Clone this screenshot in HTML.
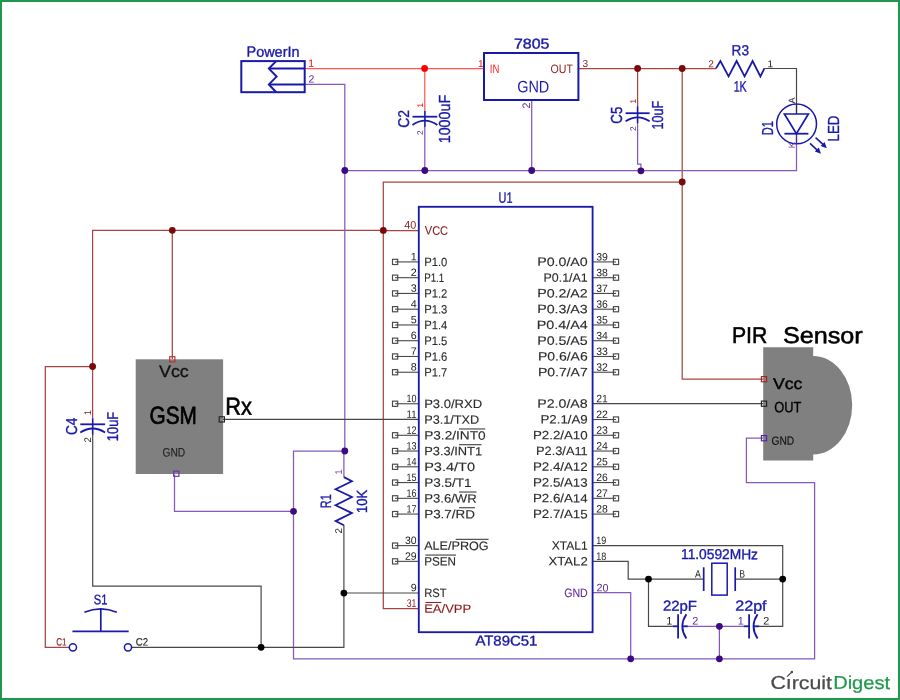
<!DOCTYPE html>
<html><head><meta charset="utf-8"><title>Circuit</title>
<style>
html,body{margin:0;padding:0;background:#fff;}
body{width:900px;height:700px;overflow:hidden;font-family:"Liberation Sans",sans-serif;}
svg{display:block;will-change:transform;text-rendering:geometricPrecision;font-family:"Liberation Sans",sans-serif;}
</style></head><body>
<svg width="900" height="700" viewBox="0 0 900 700">
<rect x="0" y="0" width="900" height="700" fill="#fff"/>
<rect x="1" y="1" width="898" height="698" fill="none" stroke="#20974b" stroke-width="2"/>
<polyline points="304.7,68.5 483,68.5" fill="none" stroke="#ff5555" stroke-width="1.25" />
<polyline points="424.8,68.5 424.8,111" fill="none" stroke="#ff5555" stroke-width="1.25" />
<circle cx="424.6" cy="68.4" r="3.4" fill="#f00"/>
<polyline points="579,68.5 716,68.5" fill="none" stroke="#a84444" stroke-width="1.25" />
<polyline points="637.6,68.5 637.6,107" fill="none" stroke="#a84444" stroke-width="1.25" />
<polyline points="682.2,68.5 682.2,379.2 763.6,379.2" fill="none" stroke="#a84444" stroke-width="1.25" />
<polyline points="682.2,182 383.3,182 383.3,608.5 418,608.5" fill="none" stroke="#a84444" stroke-width="1.25" />
<polyline points="383.3,230.5 418,230.5" fill="none" stroke="#a84444" stroke-width="1.25" />
<polyline points="383.3,230.3 92.6,230.3 92.6,418" fill="none" stroke="#a84444" stroke-width="1.25" />
<polyline points="172.3,230.3 172.3,359.3" fill="none" stroke="#a84444" stroke-width="1.25" />
<polyline points="92.6,366.5 45.3,366.5 45.3,647.3 69.3,647.3" fill="none" stroke="#a84444" stroke-width="1.25" />
<circle cx="637.6" cy="68.5" r="3.4" fill="#7a0a0a"/>
<circle cx="682.2" cy="68.5" r="3.4" fill="#7a0a0a"/>
<circle cx="682.2" cy="182" r="3.4" fill="#7a0a0a"/>
<circle cx="383.3" cy="230.4" r="3.4" fill="#7a0a0a"/>
<circle cx="172.3" cy="230.3" r="3.4" fill="#7a0a0a"/>
<circle cx="92.6" cy="366.5" r="3.4" fill="#7a0a0a"/>
<polyline points="764.4,68.5 796.5,68.5 796.5,104" fill="none" stroke="#484848" stroke-width="1.2" />
<polyline points="304.7,84.3 344.8,84.3 344.8,451" fill="none" stroke="#8558bc" stroke-width="1.25" />
<polyline points="343.9,451 343.9,477.3" fill="none" stroke="#8558bc" stroke-width="1.25" />
<polyline points="344.8,170.5 796.5,170.5 796.5,144" fill="none" stroke="#8558bc" stroke-width="1.25" />
<polyline points="424.8,127 424.8,170.5" fill="none" stroke="#8558bc" stroke-width="1.25" />
<polyline points="531.7,100 531.7,170.5" fill="none" stroke="#8558bc" stroke-width="1.25" />
<polyline points="637.6,123 637.6,164 640.9,164 640.9,170.5" fill="none" stroke="#8558bc" stroke-width="1.25" />
<circle cx="344.8" cy="170.5" r="3.4" fill="#3c0a82"/>
<circle cx="424.8" cy="170.5" r="3.4" fill="#3c0a82"/>
<circle cx="531.7" cy="170.5" r="3.4" fill="#3c0a82"/>
<circle cx="640.9" cy="170.8" r="3.4" fill="#3c0a82"/>
<polyline points="344.8,451 293.5,451 293.5,658.8 814.6,658.8 814.6,482.6 746.4,482.6 746.4,438.2 764,438.2" fill="none" stroke="#8558bc" stroke-width="1.25" />
<polyline points="174.5,474.5 174.5,511.3 293.5,511.3" fill="none" stroke="#8558bc" stroke-width="1.25" />
<polyline points="593,592.7 630.7,592.7 630.7,658.8" fill="none" stroke="#8558bc" stroke-width="1.25" />
<polyline points="688,626.3 743.5,626.3" fill="none" stroke="#8558bc" stroke-width="1.25" />
<polyline points="719.4,626.3 719.4,658.8" fill="none" stroke="#8558bc" stroke-width="1.25" />
<circle cx="344.8" cy="451" r="3.4" fill="#3c0a82"/>
<circle cx="293.5" cy="511.3" r="3.4" fill="#3c0a82"/>
<circle cx="630.7" cy="658.8" r="3.4" fill="#3c0a82"/>
<circle cx="719.4" cy="658.8" r="3.4" fill="#3c0a82"/>
<circle cx="719.4" cy="626.3" r="3.4" fill="#3c0a82"/>
<polyline points="221.8,419.4 418,419.4" fill="none" stroke="#484848" stroke-width="1.2" />
<polyline points="593,403.7 763.6,403.7" fill="none" stroke="#484848" stroke-width="1.2" />
<polyline points="92.7,434 92.7,586.2 261.1,586.2 261.1,647.3" fill="none" stroke="#484848" stroke-width="1.2" />
<polyline points="131.8,647.3 343.9,647.3 343.9,525" fill="none" stroke="#484848" stroke-width="1.2" />
<polyline points="343.9,593 418,593" fill="none" stroke="#484848" stroke-width="1.2" />
<polyline points="593,545.6 782.7,545.6 782.7,626.3 759,626.3" fill="none" stroke="#484848" stroke-width="1.2" />
<polyline points="593,561.3 628.2,561.3 628.2,579.2 703,579.2" fill="none" stroke="#484848" stroke-width="1.2" />
<polyline points="735.5,579.2 782.7,579.2" fill="none" stroke="#484848" stroke-width="1.2" />
<polyline points="648.5,579 648.5,626.3 672.5,626.3" fill="none" stroke="#484848" stroke-width="1.2" />
<circle cx="261.1" cy="647.3" r="3.4" fill="#000"/>
<circle cx="343.9" cy="593.1" r="3.4" fill="#000"/>
<circle cx="648.5" cy="579.1" r="3.4" fill="#000"/>
<circle cx="782.7" cy="579.1" r="3.4" fill="#000"/>
<rect x="241.3" y="61.1" width="63.4" height="31.1" fill="none" stroke="#1a1aaa" stroke-width="2"/>
<polyline points="276.2,61.1 268.9,68.6 276.6,76.6 268.9,84.4 276.2,92.2" fill="none" stroke="#1a1aaa" stroke-width="2" />
<polyline points="268.9,68.6 304.7,68.6" fill="none" stroke="#1a1aaa" stroke-width="2" />
<polyline points="268.9,84.4 304.7,84.4" fill="none" stroke="#1a1aaa" stroke-width="2" />
<text x="246.5" y="56.6" font-size="14.6" fill="#1a1aaa" textLength="53" lengthAdjust="spacingAndGlyphs" transform="rotate(0.25 246.5 56.6)" stroke="#1a1aaa" stroke-width="0.35" >PowerIn</text>
<text x="308.3" y="66.7" font-size="10.4" fill="#f00" transform="rotate(0.25 308.3 66.7)" >1</text>
<text x="308.5" y="82.6" font-size="10.4" fill="#5a2a9a" transform="rotate(0.25 308.5 82.6)" >2</text>
<rect x="484" y="53" width="94.4" height="47" fill="none" stroke="#1a1aaa" stroke-width="2"/>
<text x="514" y="48.5" font-size="14.1" fill="#1a1aaa" textLength="35.3" lengthAdjust="spacingAndGlyphs" transform="rotate(0.25 514 48.5)" stroke="#1a1aaa" stroke-width="0.4" >7805</text>
<text x="489.8" y="72.9" font-size="12.2" fill="#f22" textLength="9.5" lengthAdjust="spacingAndGlyphs" transform="rotate(0.25 489.8 72.9)" >IN</text>
<text x="550.6" y="72.9" font-size="12.2" fill="#8a1a1a" textLength="22.4" lengthAdjust="spacingAndGlyphs" transform="rotate(0.25 550.6 72.9)" >OUT</text>
<text x="517.2" y="92.3" font-size="16.6" fill="#1a1aaa" textLength="32" lengthAdjust="spacingAndGlyphs" transform="rotate(0.25 517.2 92.3)" >GND</text>
<text x="478" y="66.9" font-size="10" fill="#f00" transform="rotate(0.25 478 66.9)" >1</text>
<text x="582.6" y="66.9" font-size="10.2" fill="#8a1a1a" transform="rotate(0.25 582.6 66.9)" >3</text>
<text x="529.5" y="108.5" font-size="10.8" fill="#5a2a9a" transform="rotate(-90 529.5 108.5)" >2</text>
<polyline points="424.9,111 424.9,127" fill="none" stroke="#1a1aaa" stroke-width="1.6" />
<polyline points="412.5,116.7 437.3,116.7" fill="none" stroke="#1a1aaa" stroke-width="1.8" />
<path d="M412.5,125.1 Q424.9,116.3 437.3,125.1" fill="none" stroke="#1a1aaa" stroke-width="1.8"/>
<text x="409.5" y="127.8" font-size="15.6" fill="#1a1aaa" textLength="17.8" lengthAdjust="spacingAndGlyphs" transform="rotate(-90 409.5 127.8)" stroke="#1a1aaa" stroke-width="0.35" >C2</text>
<text x="450.3" y="143.3" font-size="16" fill="#1a1aaa" textLength="48.4" lengthAdjust="spacingAndGlyphs" transform="rotate(-90 450.3 143.3)" stroke="#1a1aaa" stroke-width="0.35" >1000uF</text>
<text x="422.6" y="107.5" font-size="8.3" fill="#f00" transform="rotate(-90 422.6 107.5)" >1</text>
<text x="422.6" y="135" font-size="8.3" fill="#5a2a9a" transform="rotate(-90 422.6 135)" >2</text>
<polyline points="637.6,106.5 637.6,123.2" fill="none" stroke="#1a1aaa" stroke-width="1.6" />
<polyline points="625.6,113.2 649.6,113.2" fill="none" stroke="#1a1aaa" stroke-width="1.8" />
<path d="M625.6,121.3 Q637.6,113.3 649.6,121.3" fill="none" stroke="#1a1aaa" stroke-width="1.8"/>
<text x="622.2" y="123.7" font-size="16" fill="#1a1aaa" textLength="17" lengthAdjust="spacingAndGlyphs" transform="rotate(-90 622.2 123.7)" stroke="#1a1aaa" stroke-width="0.35" >C5</text>
<text x="663" y="129.6" font-size="15.9" fill="#1a1aaa" textLength="28.7" lengthAdjust="spacingAndGlyphs" transform="rotate(-90 663 129.6)" stroke="#1a1aaa" stroke-width="0.35" >10uF</text>
<text x="635.6" y="103.5" font-size="8.3" fill="#8a1a1a" transform="rotate(-90 635.6 103.5)" >1</text>
<text x="635.6" y="131" font-size="8.3" fill="#5a2a9a" transform="rotate(-90 635.6 131)" >2</text>
<polyline points="92.7,418.2 92.7,434.5" fill="none" stroke="#1a1aaa" stroke-width="1.6" />
<polyline points="80.3,424.3 105.1,424.3" fill="none" stroke="#1a1aaa" stroke-width="1.8" />
<path d="M80.3,432.5 Q92.7,424.5 105.1,432.5" fill="none" stroke="#1a1aaa" stroke-width="1.8"/>
<text x="77.2" y="435" font-size="15.8" fill="#1a1aaa" textLength="17.5" lengthAdjust="spacingAndGlyphs" transform="rotate(-90 77.2 435)" stroke="#1a1aaa" stroke-width="0.35" >C4</text>
<text x="118.2" y="441.2" font-size="15.6" fill="#1a1aaa" textLength="29.4" lengthAdjust="spacingAndGlyphs" transform="rotate(-90 118.2 441.2)" stroke="#1a1aaa" stroke-width="0.35" >10uF</text>
<text x="90.8" y="415.3" font-size="9.6" fill="#8a1a1a" transform="rotate(-90 90.8 415.3)" >1</text>
<text x="90.8" y="442.5" font-size="9.6" fill="#222" transform="rotate(-90 90.8 442.5)" >2</text>
<polyline points="716,68.4 720.4,61 728.6,76.4 736.6,61 744.6,76.4 752.6,61 760.4,76.4 764.4,68.4" fill="none" stroke="#1a1aaa" stroke-width="1.8" stroke-linejoin="miter"/>
<text x="731.6" y="55.2" font-size="14.6" fill="#1a1aaa" textLength="17.4" lengthAdjust="spacingAndGlyphs" transform="rotate(0.25 731.6 55.2)" stroke="#1a1aaa" stroke-width="0.35" >R3</text>
<text x="733.7" y="91.4" font-size="15" fill="#1a1aaa" textLength="13" lengthAdjust="spacingAndGlyphs" transform="rotate(0.25 733.7 91.4)" stroke="#1a1aaa" stroke-width="0.35" >1K</text>
<text x="708.3" y="67.3" font-size="10" fill="#8a1a1a" transform="rotate(0.25 708.3 67.3)" >2</text>
<text x="767.4" y="67.3" font-size="10" fill="#222" transform="rotate(0.25 767.4 67.3)" >1</text>
<circle cx="796.6" cy="123.9" r="19.9" fill="none" stroke="#1a1aaa" stroke-width="1.5"/>
<polyline points="796.5,104 796.5,114" fill="none" stroke="#2a2a55" stroke-width="1.4" />
<polyline points="796.5,133.7 796.5,144" fill="none" stroke="#4a2a8a" stroke-width="1.4" />
<path d="M784.4,114 L808.4,114 L796.4,133.6 Z" fill="#fff" stroke="#1a1aaa" stroke-width="1.7"/>
<polyline points="784.4,133.7 808.4,133.7" fill="none" stroke="#1a1aaa" stroke-width="1.8" />
<polyline points="815.6,137.6 824.3,145.7" fill="none" stroke="#1a1aaa" stroke-width="1.6" />
<path d="M826.8,148.2 L820.6,146 L824.6,142 Z" fill="#1a1aaa"/>
<polyline points="810,143.4 818.5,151.3" fill="none" stroke="#1a1aaa" stroke-width="1.6" />
<path d="M821,153.8 L814.8,151.6 L818.8,147.6 Z" fill="#1a1aaa"/>
<text x="773.5" y="135.2" font-size="15.9" fill="#1a1aaa" textLength="14.2" lengthAdjust="spacingAndGlyphs" transform="rotate(-90 773.5 135.2)" stroke="#1a1aaa" stroke-width="0.35" >D1</text>
<text x="839.1" y="141.4" font-size="16" fill="#1a1aaa" textLength="25.8" lengthAdjust="spacingAndGlyphs" transform="rotate(-90 839.1 141.4)" stroke="#1a1aaa" stroke-width="0.35" >LED</text>
<text x="794.6" y="103.6" font-size="9.2" fill="#222" transform="rotate(-90 794.6 103.6)" >A</text>
<text x="794.6" y="148.3" font-size="9.2" fill="#7a3a9a" transform="rotate(-90 794.6 148.3)" >K</text>
<rect x="135.7" y="359.3" width="87.4" height="114.7" fill="#808080"/>
<rect x="169.7" y="356.7" width="5.2" height="5.2" fill="none" stroke="#b83030" stroke-width="1.15"/>
<rect x="219.2" y="416.8" width="5.2" height="5.2" fill="none" stroke="#222" stroke-width="1.15"/>
<rect x="173.7" y="471.1" width="5.2" height="5.2" fill="none" stroke="#6a30b0" stroke-width="1.15"/>
<text x="159" y="376.9" font-size="16.8" fill="#111" textLength="29.7" lengthAdjust="spacingAndGlyphs" transform="rotate(0.25 159 376.9)" stroke="#111" stroke-width="0.3" >Vcc</text>
<text x="149.5" y="423.7" font-size="24.6" fill="#000" textLength="47.3" lengthAdjust="spacingAndGlyphs" transform="rotate(0.25 149.5 423.7)" stroke="#000" stroke-width="0.7" >GSM</text>
<text x="162.5" y="456.5" font-size="12.2" fill="#222" textLength="22.7" lengthAdjust="spacingAndGlyphs" transform="rotate(0.25 162.5 456.5)" stroke="#222" stroke-width="0.15" >GND</text>
<text x="225.3" y="414.8" font-size="24.6" fill="#000" textLength="26.6" lengthAdjust="spacingAndGlyphs" transform="rotate(0.25 225.3 414.8)" stroke="#000" stroke-width="0.6" >Rx</text>
<polyline points="343.9,477.1 351.9,481.3 335.6,489.2 351.9,497 335.6,505.2 351.9,513.1 335.6,521.1 343.9,525.3" fill="none" stroke="#1a1aaa" stroke-width="1.8" />
<text x="331" y="508.2" font-size="15" fill="#1a1aaa" textLength="14" lengthAdjust="spacingAndGlyphs" transform="rotate(-90 331 508.2)" stroke="#1a1aaa" stroke-width="0.35" >R1</text>
<text x="366.6" y="512.9" font-size="14.7" fill="#1a1aaa" textLength="23.2" lengthAdjust="spacingAndGlyphs" transform="rotate(-90 366.6 512.9)" stroke="#1a1aaa" stroke-width="0.35" >10K</text>
<text x="342" y="474.8" font-size="9.8" fill="#7a40b0" transform="rotate(-90 342 474.8)" >1</text>
<text x="342" y="533.5" font-size="9.8" fill="#222" transform="rotate(-90 342 533.5)" >2</text>
<circle cx="72.9" cy="647.3" r="3.6" fill="#fff" stroke="#1a1aaa" stroke-width="1.5"/>
<circle cx="128" cy="647.3" r="3.6" fill="#fff" stroke="#1a1aaa" stroke-width="1.5"/>
<polyline points="72.4,631.3 128.7,631.3" fill="none" stroke="#1a1aaa" stroke-width="1.7" />
<polyline points="100.8,631.3 100.8,608.8" fill="none" stroke="#1a1aaa" stroke-width="1.7" />
<path d="M84.4,612.3 Q100.8,605.3 116.8,612.3" fill="none" stroke="#1a1aaa" stroke-width="1.7"/>
<text x="93.8" y="604.3" font-size="13.8" fill="#1a1aaa" textLength="13.6" lengthAdjust="spacingAndGlyphs" transform="rotate(0.25 93.8 604.3)" stroke="#1a1aaa" stroke-width="0.35" >S1</text>
<text x="56.3" y="645.5" font-size="10.6" fill="#8a1a1a" textLength="10.3" lengthAdjust="spacingAndGlyphs" transform="rotate(0.25 56.3 645.5)" stroke="#8a1a1a" stroke-width="0.15" >C1</text>
<text x="135.8" y="645.5" font-size="10.6" fill="#222" textLength="12.3" lengthAdjust="spacingAndGlyphs" transform="rotate(0.25 135.8 645.5)" stroke="#222" stroke-width="0.15" >C2</text>
<rect x="418.8" y="206.8" width="173.8" height="425.4" fill="none" stroke="#1a1aaa" stroke-width="1.85"/>
<text x="498.6" y="202.7" font-size="15" fill="#1a1aaa" textLength="13.9" lengthAdjust="spacingAndGlyphs" transform="rotate(0.25 498.6 202.7)" stroke="#1a1aaa" stroke-width="0.4" >U1</text>
<text x="475.4" y="645.3" font-size="14.1" fill="#1a1aaa" textLength="62" lengthAdjust="spacingAndGlyphs" transform="rotate(0.25 475.4 645.3)" stroke="#1a1aaa" stroke-width="0.35" >AT89C51</text>
<text x="424.2" y="266.07" font-size="12.1" fill="#2b2b2b" textLength="23.1" lengthAdjust="spacingAndGlyphs" transform="rotate(0.25 424.2 266.07)" stroke="#2b2b2b" stroke-width="0.12" >P1.0</text>
<text x="416.6" y="260.32" font-size="10.7" fill="#222" text-anchor="end" transform="rotate(0.25 416.6 260.32)" >1</text>
<polyline points="395.1,261.92 418,261.92" fill="none" stroke="#484848" stroke-width="1.1" />
<rect x="392.5" y="259.32" width="5.2" height="5.2" fill="none" stroke="#484848" stroke-width="1.15"/>
<text x="424.2" y="281.83" font-size="12.1" fill="#2b2b2b" textLength="19.9" lengthAdjust="spacingAndGlyphs" transform="rotate(0.25 424.2 281.83)" stroke="#2b2b2b" stroke-width="0.12" >P1.1</text>
<text x="416.6" y="276.08" font-size="10.7" fill="#222" text-anchor="end" transform="rotate(0.25 416.6 276.08)" >2</text>
<polyline points="395.1,277.68 418,277.68" fill="none" stroke="#484848" stroke-width="1.1" />
<rect x="392.5" y="275.08" width="5.2" height="5.2" fill="none" stroke="#484848" stroke-width="1.15"/>
<text x="424.2" y="297.59" font-size="12.1" fill="#2b2b2b" textLength="23.1" lengthAdjust="spacingAndGlyphs" transform="rotate(0.25 424.2 297.59)" stroke="#2b2b2b" stroke-width="0.12" >P1.2</text>
<text x="416.6" y="291.84" font-size="10.7" fill="#222" text-anchor="end" transform="rotate(0.25 416.6 291.84)" >3</text>
<polyline points="395.1,293.44 418,293.44" fill="none" stroke="#484848" stroke-width="1.1" />
<rect x="392.5" y="290.84" width="5.2" height="5.2" fill="none" stroke="#484848" stroke-width="1.15"/>
<text x="424.2" y="313.35" font-size="12.1" fill="#2b2b2b" textLength="23.1" lengthAdjust="spacingAndGlyphs" transform="rotate(0.25 424.2 313.35)" stroke="#2b2b2b" stroke-width="0.12" >P1.3</text>
<text x="416.6" y="307.6" font-size="10.7" fill="#222" text-anchor="end" transform="rotate(0.25 416.6 307.6)" >4</text>
<polyline points="395.1,309.2 418,309.2" fill="none" stroke="#484848" stroke-width="1.1" />
<rect x="392.5" y="306.6" width="5.2" height="5.2" fill="none" stroke="#484848" stroke-width="1.15"/>
<text x="424.2" y="329.11" font-size="12.1" fill="#2b2b2b" textLength="23.1" lengthAdjust="spacingAndGlyphs" transform="rotate(0.25 424.2 329.11)" stroke="#2b2b2b" stroke-width="0.12" >P1.4</text>
<text x="416.6" y="323.36" font-size="10.7" fill="#222" text-anchor="end" transform="rotate(0.25 416.6 323.36)" >5</text>
<polyline points="395.1,324.96 418,324.96" fill="none" stroke="#484848" stroke-width="1.1" />
<rect x="392.5" y="322.36" width="5.2" height="5.2" fill="none" stroke="#484848" stroke-width="1.15"/>
<text x="424.2" y="344.87" font-size="12.1" fill="#2b2b2b" textLength="23.1" lengthAdjust="spacingAndGlyphs" transform="rotate(0.25 424.2 344.87)" stroke="#2b2b2b" stroke-width="0.12" >P1.5</text>
<text x="416.6" y="339.12" font-size="10.7" fill="#222" text-anchor="end" transform="rotate(0.25 416.6 339.12)" >6</text>
<polyline points="395.1,340.72 418,340.72" fill="none" stroke="#484848" stroke-width="1.1" />
<rect x="392.5" y="338.12" width="5.2" height="5.2" fill="none" stroke="#484848" stroke-width="1.15"/>
<text x="424.2" y="360.63" font-size="12.1" fill="#2b2b2b" textLength="23.1" lengthAdjust="spacingAndGlyphs" transform="rotate(0.25 424.2 360.63)" stroke="#2b2b2b" stroke-width="0.12" >P1.6</text>
<text x="416.6" y="354.88" font-size="10.7" fill="#222" text-anchor="end" transform="rotate(0.25 416.6 354.88)" >7</text>
<polyline points="395.1,356.48 418,356.48" fill="none" stroke="#484848" stroke-width="1.1" />
<rect x="392.5" y="353.88" width="5.2" height="5.2" fill="none" stroke="#484848" stroke-width="1.15"/>
<text x="424.2" y="376.39" font-size="12.1" fill="#2b2b2b" textLength="23.1" lengthAdjust="spacingAndGlyphs" transform="rotate(0.25 424.2 376.39)" stroke="#2b2b2b" stroke-width="0.12" >P1.7</text>
<text x="416.6" y="370.64" font-size="10.7" fill="#222" text-anchor="end" transform="rotate(0.25 416.6 370.64)" >8</text>
<polyline points="395.1,372.24 418,372.24" fill="none" stroke="#484848" stroke-width="1.1" />
<rect x="392.5" y="369.64" width="5.2" height="5.2" fill="none" stroke="#484848" stroke-width="1.15"/>
<text x="424.2" y="407.91" font-size="12.1" fill="#2b2b2b" textLength="57.9" lengthAdjust="spacingAndGlyphs" transform="rotate(0.25 424.2 407.91)" stroke="#2b2b2b" stroke-width="0.12" >P3.0/RXD</text>
<text x="416.6" y="402.16" font-size="10.7" fill="#222" text-anchor="end" textLength="10" lengthAdjust="spacingAndGlyphs" transform="rotate(0.25 416.6 402.16)" >10</text>
<polyline points="395.1,403.76 418,403.76" fill="none" stroke="#484848" stroke-width="1.1" />
<rect x="392.5" y="401.16" width="5.2" height="5.2" fill="none" stroke="#484848" stroke-width="1.15"/>
<text x="424.2" y="423.67" font-size="12.1" fill="#2b2b2b" textLength="55" lengthAdjust="spacingAndGlyphs" transform="rotate(0.25 424.2 423.67)" stroke="#2b2b2b" stroke-width="0.12" >P3.1/TXD</text>
<text x="416.6" y="417.92" font-size="10.7" fill="#222" text-anchor="end" textLength="10" lengthAdjust="spacingAndGlyphs" transform="rotate(0.25 416.6 417.92)" >11</text>
<text x="424.2" y="439.43" font-size="12.1" fill="#2b2b2b" textLength="61.4" lengthAdjust="spacingAndGlyphs" transform="rotate(0.25 424.2 439.43)" stroke="#2b2b2b" stroke-width="0.12" >P3.2/INT0</text>
<text x="416.6" y="433.68" font-size="10.7" fill="#222" text-anchor="end" textLength="10" lengthAdjust="spacingAndGlyphs" transform="rotate(0.25 416.6 433.68)" >12</text>
<polyline points="395.1,435.28 418,435.28" fill="none" stroke="#484848" stroke-width="1.1" />
<rect x="392.5" y="432.68" width="5.2" height="5.2" fill="none" stroke="#484848" stroke-width="1.15"/>
<text x="424.2" y="455.19" font-size="12.1" fill="#2b2b2b" textLength="57.9" lengthAdjust="spacingAndGlyphs" transform="rotate(0.25 424.2 455.19)" stroke="#2b2b2b" stroke-width="0.12" >P3.3/INT1</text>
<text x="416.6" y="449.44" font-size="10.7" fill="#222" text-anchor="end" textLength="10" lengthAdjust="spacingAndGlyphs" transform="rotate(0.25 416.6 449.44)" >13</text>
<polyline points="395.1,451.04 418,451.04" fill="none" stroke="#484848" stroke-width="1.1" />
<rect x="392.5" y="448.44" width="5.2" height="5.2" fill="none" stroke="#484848" stroke-width="1.15"/>
<text x="424.2" y="470.95" font-size="12.1" fill="#2b2b2b" textLength="50.8" lengthAdjust="spacingAndGlyphs" transform="rotate(0.25 424.2 470.95)" stroke="#2b2b2b" stroke-width="0.12" >P3.4/T0</text>
<text x="416.6" y="465.2" font-size="10.7" fill="#222" text-anchor="end" textLength="10" lengthAdjust="spacingAndGlyphs" transform="rotate(0.25 416.6 465.2)" >14</text>
<polyline points="395.1,466.8 418,466.8" fill="none" stroke="#484848" stroke-width="1.1" />
<rect x="392.5" y="464.2" width="5.2" height="5.2" fill="none" stroke="#484848" stroke-width="1.15"/>
<text x="424.2" y="486.71" font-size="12.1" fill="#2b2b2b" textLength="47.3" lengthAdjust="spacingAndGlyphs" transform="rotate(0.25 424.2 486.71)" stroke="#2b2b2b" stroke-width="0.12" >P3.5/T1</text>
<text x="416.6" y="480.96" font-size="10.7" fill="#222" text-anchor="end" textLength="10" lengthAdjust="spacingAndGlyphs" transform="rotate(0.25 416.6 480.96)" >15</text>
<polyline points="395.1,482.56 418,482.56" fill="none" stroke="#484848" stroke-width="1.1" />
<rect x="392.5" y="479.96" width="5.2" height="5.2" fill="none" stroke="#484848" stroke-width="1.15"/>
<text x="424.2" y="502.47" font-size="12.1" fill="#2b2b2b" textLength="52.5" lengthAdjust="spacingAndGlyphs" transform="rotate(0.25 424.2 502.47)" stroke="#2b2b2b" stroke-width="0.12" >P3.6/WR</text>
<text x="416.6" y="496.72" font-size="10.7" fill="#222" text-anchor="end" textLength="10" lengthAdjust="spacingAndGlyphs" transform="rotate(0.25 416.6 496.72)" >16</text>
<polyline points="395.1,498.32 418,498.32" fill="none" stroke="#484848" stroke-width="1.1" />
<rect x="392.5" y="495.72" width="5.2" height="5.2" fill="none" stroke="#484848" stroke-width="1.15"/>
<text x="424.2" y="518.23" font-size="12.1" fill="#2b2b2b" textLength="50.8" lengthAdjust="spacingAndGlyphs" transform="rotate(0.25 424.2 518.23)" stroke="#2b2b2b" stroke-width="0.12" >P3.7/RD</text>
<text x="416.6" y="512.48" font-size="10.7" fill="#222" text-anchor="end" textLength="10" lengthAdjust="spacingAndGlyphs" transform="rotate(0.25 416.6 512.48)" >17</text>
<polyline points="395.1,514.08 418,514.08" fill="none" stroke="#484848" stroke-width="1.1" />
<rect x="392.5" y="511.48" width="5.2" height="5.2" fill="none" stroke="#484848" stroke-width="1.15"/>
<text x="424.2" y="549.75" font-size="12.1" fill="#2b2b2b" textLength="64.4" lengthAdjust="spacingAndGlyphs" transform="rotate(0.25 424.2 549.75)" stroke="#2b2b2b" stroke-width="0.12" >ALE/PROG</text>
<text x="416.6" y="544" font-size="10.7" fill="#222" text-anchor="end" textLength="11.6" lengthAdjust="spacingAndGlyphs" transform="rotate(0.25 416.6 544)" >30</text>
<polyline points="395.1,545.6 418,545.6" fill="none" stroke="#484848" stroke-width="1.1" />
<rect x="392.5" y="543" width="5.2" height="5.2" fill="none" stroke="#484848" stroke-width="1.15"/>
<text x="424.2" y="565.51" font-size="12.1" fill="#2b2b2b" textLength="31.7" lengthAdjust="spacingAndGlyphs" transform="rotate(0.25 424.2 565.51)" stroke="#2b2b2b" stroke-width="0.12" >PSEN</text>
<text x="416.6" y="559.76" font-size="10.7" fill="#222" text-anchor="end" textLength="11.6" lengthAdjust="spacingAndGlyphs" transform="rotate(0.25 416.6 559.76)" >29</text>
<polyline points="395.1,561.36 418,561.36" fill="none" stroke="#484848" stroke-width="1.1" />
<rect x="392.5" y="558.76" width="5.2" height="5.2" fill="none" stroke="#484848" stroke-width="1.15"/>
<text x="424.2" y="597.03" font-size="12.1" fill="#2b2b2b" textLength="22.4" lengthAdjust="spacingAndGlyphs" transform="rotate(0.25 424.2 597.03)" stroke="#2b2b2b" stroke-width="0.12" >RST</text>
<text x="416.6" y="591.28" font-size="10.7" fill="#222" text-anchor="end" transform="rotate(0.25 416.6 591.28)" >9</text>
<polyline points="459,428.98 485.2,428.98" fill="none" stroke="#2b2b2b" stroke-width="1" />
<polyline points="459,444.74 481.5,444.74" fill="none" stroke="#2b2b2b" stroke-width="1" />
<polyline points="459,492.02 476.5,492.02" fill="none" stroke="#2b2b2b" stroke-width="1" />
<polyline points="459,507.78 475,507.78" fill="none" stroke="#2b2b2b" stroke-width="1" />
<polyline points="455.7,539.3 488.6,539.3" fill="none" stroke="#2b2b2b" stroke-width="1" />
<polyline points="425.4,555.06 456,555.06" fill="none" stroke="#2b2b2b" stroke-width="1" />
<text x="424.8" y="234.6" font-size="12.3" fill="#8a1a1a" textLength="23.3" lengthAdjust="spacingAndGlyphs" transform="rotate(0.25 424.8 234.6)" stroke="#8a1a1a" stroke-width="0.12" >VCC</text>
<text x="416.3" y="228.7" font-size="11.2" fill="#8a1a1a" text-anchor="end" textLength="12" lengthAdjust="spacingAndGlyphs" transform="rotate(0.25 416.3 228.7)" >40</text>
<text x="424.2" y="612.79" font-size="12.1" fill="#8a1a1a" textLength="47" lengthAdjust="spacingAndGlyphs" transform="rotate(0.25 424.2 612.79)" stroke="#8a1a1a" stroke-width="0.12" >EA/VPP</text>
<polyline points="425.4,602.44 441.4,602.44" fill="none" stroke="#8a1a1a" stroke-width="1" />
<text x="416.3" y="606.94" font-size="11.2" fill="#8a1a1a" text-anchor="end" textLength="9.6" lengthAdjust="spacingAndGlyphs" transform="rotate(0.25 416.3 606.94)" >31</text>
<text x="587.7" y="266.07" font-size="12.1" fill="#2b2b2b" text-anchor="end" textLength="50.5" lengthAdjust="spacingAndGlyphs" transform="rotate(0.25 587.7 266.07)" stroke="#2b2b2b" stroke-width="0.12" >P0.0/A0</text>
<text x="596.3" y="260.42" font-size="10.7" fill="#222" textLength="11.6" lengthAdjust="spacingAndGlyphs" transform="rotate(0.25 596.3 260.42)" >39</text>
<polyline points="593,261.92 616,261.92" fill="none" stroke="#484848" stroke-width="1.1" />
<rect x="613.4" y="259.32" width="5.2" height="5.2" fill="none" stroke="#484848" stroke-width="1.15"/>
<text x="587.7" y="281.83" font-size="12.1" fill="#2b2b2b" text-anchor="end" textLength="44.1" lengthAdjust="spacingAndGlyphs" transform="rotate(0.25 587.7 281.83)" stroke="#2b2b2b" stroke-width="0.12" >P0.1/A1</text>
<text x="596.3" y="276.18" font-size="10.7" fill="#222" textLength="11.6" lengthAdjust="spacingAndGlyphs" transform="rotate(0.25 596.3 276.18)" >38</text>
<polyline points="593,277.68 616,277.68" fill="none" stroke="#484848" stroke-width="1.1" />
<rect x="613.4" y="275.08" width="5.2" height="5.2" fill="none" stroke="#484848" stroke-width="1.15"/>
<text x="587.7" y="297.59" font-size="12.1" fill="#2b2b2b" text-anchor="end" textLength="50.5" lengthAdjust="spacingAndGlyphs" transform="rotate(0.25 587.7 297.59)" stroke="#2b2b2b" stroke-width="0.12" >P0.2/A2</text>
<text x="596.3" y="291.94" font-size="10.7" fill="#222" textLength="11.6" lengthAdjust="spacingAndGlyphs" transform="rotate(0.25 596.3 291.94)" >37</text>
<polyline points="593,293.44 616,293.44" fill="none" stroke="#484848" stroke-width="1.1" />
<rect x="613.4" y="290.84" width="5.2" height="5.2" fill="none" stroke="#484848" stroke-width="1.15"/>
<text x="587.7" y="313.35" font-size="12.1" fill="#2b2b2b" text-anchor="end" textLength="50.5" lengthAdjust="spacingAndGlyphs" transform="rotate(0.25 587.7 313.35)" stroke="#2b2b2b" stroke-width="0.12" >P0.3/A3</text>
<text x="596.3" y="307.7" font-size="10.7" fill="#222" textLength="11.6" lengthAdjust="spacingAndGlyphs" transform="rotate(0.25 596.3 307.7)" >36</text>
<polyline points="593,309.2 616,309.2" fill="none" stroke="#484848" stroke-width="1.1" />
<rect x="613.4" y="306.6" width="5.2" height="5.2" fill="none" stroke="#484848" stroke-width="1.15"/>
<text x="587.7" y="329.11" font-size="12.1" fill="#2b2b2b" text-anchor="end" textLength="51" lengthAdjust="spacingAndGlyphs" transform="rotate(0.25 587.7 329.11)" stroke="#2b2b2b" stroke-width="0.12" >P0.4/A4</text>
<text x="596.3" y="323.46" font-size="10.7" fill="#222" textLength="11.6" lengthAdjust="spacingAndGlyphs" transform="rotate(0.25 596.3 323.46)" >35</text>
<polyline points="593,324.96 616,324.96" fill="none" stroke="#484848" stroke-width="1.1" />
<rect x="613.4" y="322.36" width="5.2" height="5.2" fill="none" stroke="#484848" stroke-width="1.15"/>
<text x="587.7" y="344.87" font-size="12.1" fill="#2b2b2b" text-anchor="end" textLength="50.5" lengthAdjust="spacingAndGlyphs" transform="rotate(0.25 587.7 344.87)" stroke="#2b2b2b" stroke-width="0.12" >P0.5/A5</text>
<text x="596.3" y="339.22" font-size="10.7" fill="#222" textLength="11.6" lengthAdjust="spacingAndGlyphs" transform="rotate(0.25 596.3 339.22)" >34</text>
<polyline points="593,340.72 616,340.72" fill="none" stroke="#484848" stroke-width="1.1" />
<rect x="613.4" y="338.12" width="5.2" height="5.2" fill="none" stroke="#484848" stroke-width="1.15"/>
<text x="587.7" y="360.63" font-size="12.1" fill="#2b2b2b" text-anchor="end" textLength="49.7" lengthAdjust="spacingAndGlyphs" transform="rotate(0.25 587.7 360.63)" stroke="#2b2b2b" stroke-width="0.12" >P0.6/A6</text>
<text x="596.3" y="354.98" font-size="10.7" fill="#222" textLength="11.6" lengthAdjust="spacingAndGlyphs" transform="rotate(0.25 596.3 354.98)" >33</text>
<polyline points="593,356.48 616,356.48" fill="none" stroke="#484848" stroke-width="1.1" />
<rect x="613.4" y="353.88" width="5.2" height="5.2" fill="none" stroke="#484848" stroke-width="1.15"/>
<text x="587.7" y="376.39" font-size="12.1" fill="#2b2b2b" text-anchor="end" textLength="49.7" lengthAdjust="spacingAndGlyphs" transform="rotate(0.25 587.7 376.39)" stroke="#2b2b2b" stroke-width="0.12" >P0.7/A7</text>
<text x="596.3" y="370.74" font-size="10.7" fill="#222" textLength="11.6" lengthAdjust="spacingAndGlyphs" transform="rotate(0.25 596.3 370.74)" >32</text>
<polyline points="593,372.24 616,372.24" fill="none" stroke="#484848" stroke-width="1.1" />
<rect x="613.4" y="369.64" width="5.2" height="5.2" fill="none" stroke="#484848" stroke-width="1.15"/>
<text x="587.7" y="407.91" font-size="12.1" fill="#2b2b2b" text-anchor="end" textLength="50.4" lengthAdjust="spacingAndGlyphs" transform="rotate(0.25 587.7 407.91)" stroke="#2b2b2b" stroke-width="0.12" >P2.0/A8</text>
<text x="596.3" y="402.26" font-size="10.7" fill="#222" textLength="11.6" lengthAdjust="spacingAndGlyphs" transform="rotate(0.25 596.3 402.26)" >21</text>
<text x="587.7" y="423.67" font-size="12.1" fill="#2b2b2b" text-anchor="end" textLength="47.2" lengthAdjust="spacingAndGlyphs" transform="rotate(0.25 587.7 423.67)" stroke="#2b2b2b" stroke-width="0.12" >P2.1/A9</text>
<text x="596.3" y="418.02" font-size="10.7" fill="#222" textLength="11.6" lengthAdjust="spacingAndGlyphs" transform="rotate(0.25 596.3 418.02)" >22</text>
<polyline points="593,419.52 616,419.52" fill="none" stroke="#484848" stroke-width="1.1" />
<rect x="613.4" y="416.92" width="5.2" height="5.2" fill="none" stroke="#484848" stroke-width="1.15"/>
<text x="587.7" y="439.43" font-size="12.1" fill="#2b2b2b" text-anchor="end" textLength="54.8" lengthAdjust="spacingAndGlyphs" transform="rotate(0.25 587.7 439.43)" stroke="#2b2b2b" stroke-width="0.12" >P2.2/A10</text>
<text x="596.3" y="433.78" font-size="10.7" fill="#222" textLength="11.6" lengthAdjust="spacingAndGlyphs" transform="rotate(0.25 596.3 433.78)" >23</text>
<polyline points="593,435.28 616,435.28" fill="none" stroke="#484848" stroke-width="1.1" />
<rect x="613.4" y="432.68" width="5.2" height="5.2" fill="none" stroke="#484848" stroke-width="1.15"/>
<text x="587.7" y="455.19" font-size="12.1" fill="#2b2b2b" text-anchor="end" textLength="51.6" lengthAdjust="spacingAndGlyphs" transform="rotate(0.25 587.7 455.19)" stroke="#2b2b2b" stroke-width="0.12" >P2.3/A11</text>
<text x="596.3" y="449.54" font-size="10.7" fill="#222" textLength="11.6" lengthAdjust="spacingAndGlyphs" transform="rotate(0.25 596.3 449.54)" >24</text>
<polyline points="593,451.04 616,451.04" fill="none" stroke="#484848" stroke-width="1.1" />
<rect x="613.4" y="448.44" width="5.2" height="5.2" fill="none" stroke="#484848" stroke-width="1.15"/>
<text x="587.7" y="470.95" font-size="12.1" fill="#2b2b2b" text-anchor="end" textLength="54.8" lengthAdjust="spacingAndGlyphs" transform="rotate(0.25 587.7 470.95)" stroke="#2b2b2b" stroke-width="0.12" >P2.4/A12</text>
<text x="596.3" y="465.3" font-size="10.7" fill="#222" textLength="11.6" lengthAdjust="spacingAndGlyphs" transform="rotate(0.25 596.3 465.3)" >25</text>
<polyline points="593,466.8 616,466.8" fill="none" stroke="#484848" stroke-width="1.1" />
<rect x="613.4" y="464.2" width="5.2" height="5.2" fill="none" stroke="#484848" stroke-width="1.15"/>
<text x="587.7" y="486.71" font-size="12.1" fill="#2b2b2b" text-anchor="end" textLength="54.8" lengthAdjust="spacingAndGlyphs" transform="rotate(0.25 587.7 486.71)" stroke="#2b2b2b" stroke-width="0.12" >P2.5/A13</text>
<text x="596.3" y="481.06" font-size="10.7" fill="#222" textLength="11.6" lengthAdjust="spacingAndGlyphs" transform="rotate(0.25 596.3 481.06)" >26</text>
<polyline points="593,482.56 616,482.56" fill="none" stroke="#484848" stroke-width="1.1" />
<rect x="613.4" y="479.96" width="5.2" height="5.2" fill="none" stroke="#484848" stroke-width="1.15"/>
<text x="587.7" y="502.47" font-size="12.1" fill="#2b2b2b" text-anchor="end" textLength="54.8" lengthAdjust="spacingAndGlyphs" transform="rotate(0.25 587.7 502.47)" stroke="#2b2b2b" stroke-width="0.12" >P2.6/A14</text>
<text x="596.3" y="496.82" font-size="10.7" fill="#222" textLength="11.6" lengthAdjust="spacingAndGlyphs" transform="rotate(0.25 596.3 496.82)" >27</text>
<polyline points="593,498.32 616,498.32" fill="none" stroke="#484848" stroke-width="1.1" />
<rect x="613.4" y="495.72" width="5.2" height="5.2" fill="none" stroke="#484848" stroke-width="1.15"/>
<text x="587.7" y="518.23" font-size="12.1" fill="#2b2b2b" text-anchor="end" textLength="54.8" lengthAdjust="spacingAndGlyphs" transform="rotate(0.25 587.7 518.23)" stroke="#2b2b2b" stroke-width="0.12" >P2.7/A15</text>
<text x="596.3" y="512.58" font-size="10.7" fill="#222" textLength="11.6" lengthAdjust="spacingAndGlyphs" transform="rotate(0.25 596.3 512.58)" >28</text>
<polyline points="593,514.08 616,514.08" fill="none" stroke="#484848" stroke-width="1.1" />
<rect x="613.4" y="511.48" width="5.2" height="5.2" fill="none" stroke="#484848" stroke-width="1.15"/>
<text x="587.7" y="549.75" font-size="12.1" fill="#2b2b2b" text-anchor="end" textLength="35.9" lengthAdjust="spacingAndGlyphs" transform="rotate(0.25 587.7 549.75)" stroke="#2b2b2b" stroke-width="0.12" >XTAL1</text>
<text x="596.3" y="544.1" font-size="10.7" fill="#222" textLength="10" lengthAdjust="spacingAndGlyphs" transform="rotate(0.25 596.3 544.1)" >19</text>
<text x="587.7" y="565.51" font-size="12.1" fill="#2b2b2b" text-anchor="end" textLength="39.2" lengthAdjust="spacingAndGlyphs" transform="rotate(0.25 587.7 565.51)" stroke="#2b2b2b" stroke-width="0.12" >XTAL2</text>
<text x="596.3" y="559.86" font-size="10.7" fill="#222" textLength="10" lengthAdjust="spacingAndGlyphs" transform="rotate(0.25 596.3 559.86)" >18</text>
<text x="587.7" y="597.03" font-size="12.1" fill="#62309f" text-anchor="end" textLength="23.5" lengthAdjust="spacingAndGlyphs" transform="rotate(0.25 587.7 597.03)" stroke="#62309f" stroke-width="0.12" >GND</text>
<text x="596.6" y="591.38" font-size="10.7" fill="#5a2a9a" textLength="12" lengthAdjust="spacingAndGlyphs" transform="rotate(0.25 596.6 591.38)" >20</text>
<polyline points="703.7,567.3 703.7,591" fill="none" stroke="#1a1aaa" stroke-width="1.7" />
<polyline points="735.2,567.3 735.2,591" fill="none" stroke="#1a1aaa" stroke-width="1.7" />
<rect x="711.8" y="563.2" width="15.4" height="31.9" fill="none" stroke="#1a1aaa" stroke-width="1.5"/>
<text x="694.9" y="577.5" font-size="10.6" fill="#222" textLength="5.8" lengthAdjust="spacingAndGlyphs" transform="rotate(0.25 694.9 577.5)" >A</text>
<text x="739.2" y="577.5" font-size="10.6" fill="#222" textLength="5.8" lengthAdjust="spacingAndGlyphs" transform="rotate(0.25 739.2 577.5)" >B</text>
<text x="681" y="558.9" font-size="14.2" fill="#1a1aaa" textLength="77" lengthAdjust="spacingAndGlyphs" transform="rotate(0.25 681 558.9)" stroke="#1a1aaa" stroke-width="0.35" >11.0592MHz</text>
<text x="662.9" y="610.6" font-size="14.4" fill="#1a1aaa" textLength="34" lengthAdjust="spacingAndGlyphs" transform="rotate(0.25 662.9 610.6)" stroke="#1a1aaa" stroke-width="0.35" >22pF</text>
<text x="735.3" y="610.6" font-size="14.4" fill="#1a1aaa" textLength="31.3" lengthAdjust="spacingAndGlyphs" transform="rotate(0.25 735.3 610.6)" stroke="#1a1aaa" stroke-width="0.35" >22pf</text>
<polyline points="672.5,626.3 678.1,626.3" fill="none" stroke="#1a1aaa" stroke-width="1.8" />
<polyline points="678.1,614.2 678.1,638.4" fill="none" stroke="#1a1aaa" stroke-width="1.8" />
<path d="M686.4,614.2 Q678.2,626.3 686.4,638.4" fill="none" stroke="#1a1aaa" stroke-width="1.8"/>
<polyline points="682.3,626.3 687.9,626.3" fill="none" stroke="#1a1aaa" stroke-width="1.8" />
<polyline points="743.5,626.3 749.1,626.3" fill="none" stroke="#1a1aaa" stroke-width="1.8" />
<polyline points="749.1,614.2 749.1,638.4" fill="none" stroke="#1a1aaa" stroke-width="1.8" />
<path d="M757.6,614.2 Q749.4,626.3 757.6,638.4" fill="none" stroke="#1a1aaa" stroke-width="1.8"/>
<polyline points="753.5,626.3 759.1,626.3" fill="none" stroke="#1a1aaa" stroke-width="1.8" />
<text x="666.2" y="624.5" font-size="10.8" fill="#222" transform="rotate(0.25 666.2 624.5)" >1</text>
<text x="692.2" y="624.5" font-size="10.8" fill="#5a2a90" transform="rotate(0.25 692.2 624.5)" >2</text>
<text x="737.8" y="624.5" font-size="10.8" fill="#5a2a90" transform="rotate(0.25 737.8 624.5)" >1</text>
<text x="763.3" y="624.5" font-size="10.8" fill="#222" transform="rotate(0.25 763.3 624.5)" >2</text>
<path d="M763.2,347.3 H813.2 V356 A39,49.2 0 0 1 813.2,454.4 V460.4 H763.2 Z" fill="#808080"/>
<rect x="761.4" y="376.6" width="5.2" height="5.2" fill="none" stroke="#b02020" stroke-width="1.15"/>
<rect x="761.4" y="401.1" width="5.2" height="5.2" fill="none" stroke="#222" stroke-width="1.15"/>
<rect x="761.4" y="435.6" width="5.2" height="5.2" fill="none" stroke="#5a20b0" stroke-width="1.15"/>
<text x="732" y="343" font-size="22.8" fill="#000" textLength="35.3" lengthAdjust="spacingAndGlyphs" transform="rotate(0.25 732 343)" stroke="#000" stroke-width="0.55" >PIR</text>
<text x="783" y="343" font-size="22.8" fill="#000" textLength="79.7" lengthAdjust="spacingAndGlyphs" transform="rotate(0.25 783 343)" stroke="#000" stroke-width="0.55" >Sensor</text>
<text x="773" y="389" font-size="15.8" fill="#000" textLength="29.3" lengthAdjust="spacingAndGlyphs" transform="rotate(0.25 773 389)" stroke="#000" stroke-width="0.4" >Vcc</text>
<text x="774.3" y="412.2" font-size="15" fill="#000" textLength="27" lengthAdjust="spacingAndGlyphs" transform="rotate(0.25 774.3 412.2)" stroke="#000" stroke-width="0.35" >OUT</text>
<text x="771.5" y="444.8" font-size="11.9" fill="#111" textLength="22.7" lengthAdjust="spacingAndGlyphs" transform="rotate(0.25 771.5 444.8)" stroke="#111" stroke-width="0.15" >GND</text>
<text x="770.4" y="688.8" font-size="18.4" fill="#4a4a4a" textLength="61.6" lengthAdjust="spacingAndGlyphs" transform="rotate(0.25 770.4 688.8)" stroke="#4a4a4a" stroke-width="0.25" >Cırcuit</text>
<text x="833.2" y="688.8" font-size="18.4" fill="#1f9a4b" textLength="56.8" lengthAdjust="spacingAndGlyphs" transform="rotate(0.25 833.2 688.8)" stroke="#1f9a4b" stroke-width="0.25" >Digest</text>
<path d="M787,676.6 L791.7,672.3" stroke="#4a4a4a" stroke-width="1.2" fill="none"/><circle cx="791.9" cy="672" r="1.25" fill="#4a4a4a"/>
</svg>
</body></html>
